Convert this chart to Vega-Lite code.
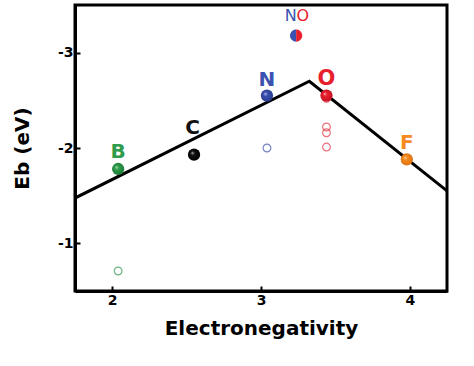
{
  "$schema": "https://vega.github.io/schema/vega-lite/v6.json",
  "width": 372,
  "height": 286,
  "autosize": "none",
  "padding": {"left": 75, "top": 5, "right": 27, "bottom": 75},
  "background": "white",
  "config": {
    "view": {"stroke": "black", "strokeWidth": 3},
    "font": "DejaVu Sans",
    "axis": {
      "grid": false,
      "domainColor": "black",
      "domainWidth": 3,
      "tickColor": "black",
      "tickWidth": 2,
      "tickSize": -5,
      "labelFont": "DejaVu Sans",
      "labelFontWeight": "bold",
      "labelFontSize": 14,
      "labelColor": "black",
      "titleFont": "DejaVu Sans",
      "titleFontWeight": "bold",
      "titleFontSize": 20,
      "titleColor": "black"
    }
  },
  "datasets": {
    "curve": [
      {"x": 1.75, "y": -1.475},
      {"x": 3.325, "y": -2.7},
      {"x": 4.25, "y": -1.55}
    ],
    "filled": [
      {"el": "B", "x": 2.04, "y": -1.78},
      {"el": "C", "x": 2.55, "y": -1.93},
      {"el": "N", "x": 3.04, "y": -2.55},
      {"el": "O", "x": 3.44, "y": -2.55},
      {"el": "F", "x": 3.98, "y": -1.88}
    ],
    "open": [
      {"el": "B", "x": 2.04, "y": -0.71},
      {"el": "N", "x": 3.04, "y": -2.0},
      {"el": "O", "x": 3.44, "y": -2.52},
      {"el": "O", "x": 3.44, "y": -2.22},
      {"el": "O", "x": 3.44, "y": -2.16},
      {"el": "O", "x": 3.44, "y": -2.01}
    ],
    "no": [
      {"el": "NO", "x": 3.236, "y": -3.18}
    ],
    "labels": [
      {"el": "B", "x": 2.04, "y": -1.89},
      {"el": "C", "x": 2.54, "y": -2.15},
      {"el": "N", "x": 3.04, "y": -2.646},
      {"el": "O", "x": 3.44, "y": -2.657},
      {"el": "F", "x": 3.98, "y": -1.994}
    ]
  },
  "encoding": {
    "x": {
      "field": "x", "type": "quantitative",
      "scale": {"domain": [1.75, 4.25], "nice": false, "zero": false},
      "axis": {"values": [2, 3, 4], "title": "Electronegativity", "labelPadding": 7, "titlePadding": 11}
    },
    "y": {
      "field": "y", "type": "quantitative",
      "scale": {"domain": [-3.5, -0.5], "reverse": true, "nice": false, "zero": false},
      "axis": {"values": [-3, -2, -1], "title": "Eb (eV)", "labelExpr": "'-' + abs(datum.value)", "labelPadding": 7, "titlePadding": 25}
    }
  },
  "layer": [
    {
      "data": {"name": "curve"},
      "mark": {"type": "line", "color": "black", "strokeWidth": 3, "clip": true}
    },
    {
      "data": {"name": "open"},
      "mark": {"type": "point", "filled": false, "size": 60, "strokeWidth": 1.2, "opacity": 0.75},
      "encoding": {
        "stroke": {"field": "el", "type": "nominal", "legend": null,
          "scale": {"domain": ["B", "C", "N", "O", "F"], "range": ["#3f9d5a", "#111111", "#4a5cb0", "#e5434f", "#f5922a"]}}
      }
    },
    {
      "data": {"name": "filled"},
      "transform": [{"filter": "datum.el === 'B'"}],
      "mark": {"type": "point", "filled": true, "size": 150, "opacity": 1,
        "fill": {"gradient": "radial", "x1": 0.35, "y1": 0.35, "r1": 0, "x2": 0.5, "y2": 0.5, "r2": 0.55,
          "stops": [{"offset": 0, "color": "#b8e6c2"}, {"offset": 0.3, "color": "#2f9b4b"}, {"offset": 1, "color": "#1a7a35"}]}}
    },
    {
      "data": {"name": "filled"},
      "transform": [{"filter": "datum.el === 'C'"}],
      "mark": {"type": "point", "filled": true, "size": 150, "opacity": 1,
        "fill": {"gradient": "radial", "x1": 0.35, "y1": 0.35, "r1": 0, "x2": 0.5, "y2": 0.5, "r2": 0.55,
          "stops": [{"offset": 0, "color": "#bbbbbb"}, {"offset": 0.3, "color": "#111111"}, {"offset": 1, "color": "#000000"}]}}
    },
    {
      "data": {"name": "filled"},
      "transform": [{"filter": "datum.el === 'N'"}],
      "mark": {"type": "point", "filled": true, "size": 150, "opacity": 1,
        "fill": {"gradient": "radial", "x1": 0.35, "y1": 0.35, "r1": 0, "x2": 0.5, "y2": 0.5, "r2": 0.55,
          "stops": [{"offset": 0, "color": "#c0c8f0"}, {"offset": 0.3, "color": "#3c52b0"}, {"offset": 1, "color": "#26388a"}]}}
    },
    {
      "data": {"name": "filled"},
      "transform": [{"filter": "datum.el === 'O'"}],
      "mark": {"type": "point", "filled": true, "size": 150, "opacity": 1,
        "fill": {"gradient": "radial", "x1": 0.35, "y1": 0.35, "r1": 0, "x2": 0.5, "y2": 0.5, "r2": 0.55,
          "stops": [{"offset": 0, "color": "#f5b0b5"}, {"offset": 0.3, "color": "#e8202e"}, {"offset": 1, "color": "#c01020"}]}}
    },
    {
      "data": {"name": "filled"},
      "transform": [{"filter": "datum.el === 'F'"}],
      "mark": {"type": "point", "filled": true, "size": 150, "opacity": 1,
        "fill": {"gradient": "radial", "x1": 0.35, "y1": 0.35, "r1": 0, "x2": 0.5, "y2": 0.5, "r2": 0.55,
          "stops": [{"offset": 0, "color": "#fbd0a0"}, {"offset": 0.3, "color": "#f58a1f"}, {"offset": 1, "color": "#d87010"}]}}
    },
    {
      "data": {"name": "no"},
      "mark": {"type": "point", "filled": true, "size": 150, "opacity": 1, "color": "#3c52b0",
        "shape": "M0,-1 A1,1 0 0,0 0,1 Z"}
    },
    {
      "data": {"name": "no"},
      "mark": {"type": "point", "filled": true, "size": 150, "opacity": 1, "color": "#e8202e",
        "shape": "M0,-1 A1,1 0 0,1 0,1 Z"}
    },
    {
      "data": {"name": "labels"},
      "mark": {"type": "text", "font": "DejaVu Sans", "fontWeight": "bold", "fontSize": 20, "baseline": "alphabetic", "align": "center"},
      "encoding": {
        "text": {"field": "el"},
        "size": {"condition": {"test": "datum.el === 'O'", "value": 21}, "value": 20},
        "color": {"field": "el", "type": "nominal", "legend": null,
          "scale": {"domain": ["B", "C", "N", "O", "F"], "range": ["#2f9b4b", "#111111", "#3c52b0", "#e8202e", "#f58a1f"]}}
      }
    },
    {
      "data": {"name": "no"},
      "mark": {"type": "text", "font": "DejaVu Sans", "fontSize": 16, "baseline": "alphabetic", "align": "right", "color": "#3c52b0", "dx": 0.5, "dy": -15, "text": "N"}
    },
    {
      "data": {"name": "no"},
      "mark": {"type": "text", "font": "DejaVu Sans", "fontSize": 16, "baseline": "alphabetic", "align": "left", "color": "#e8202e", "dx": 0.5, "dy": -15, "text": "O"}
    }
  ]
}
